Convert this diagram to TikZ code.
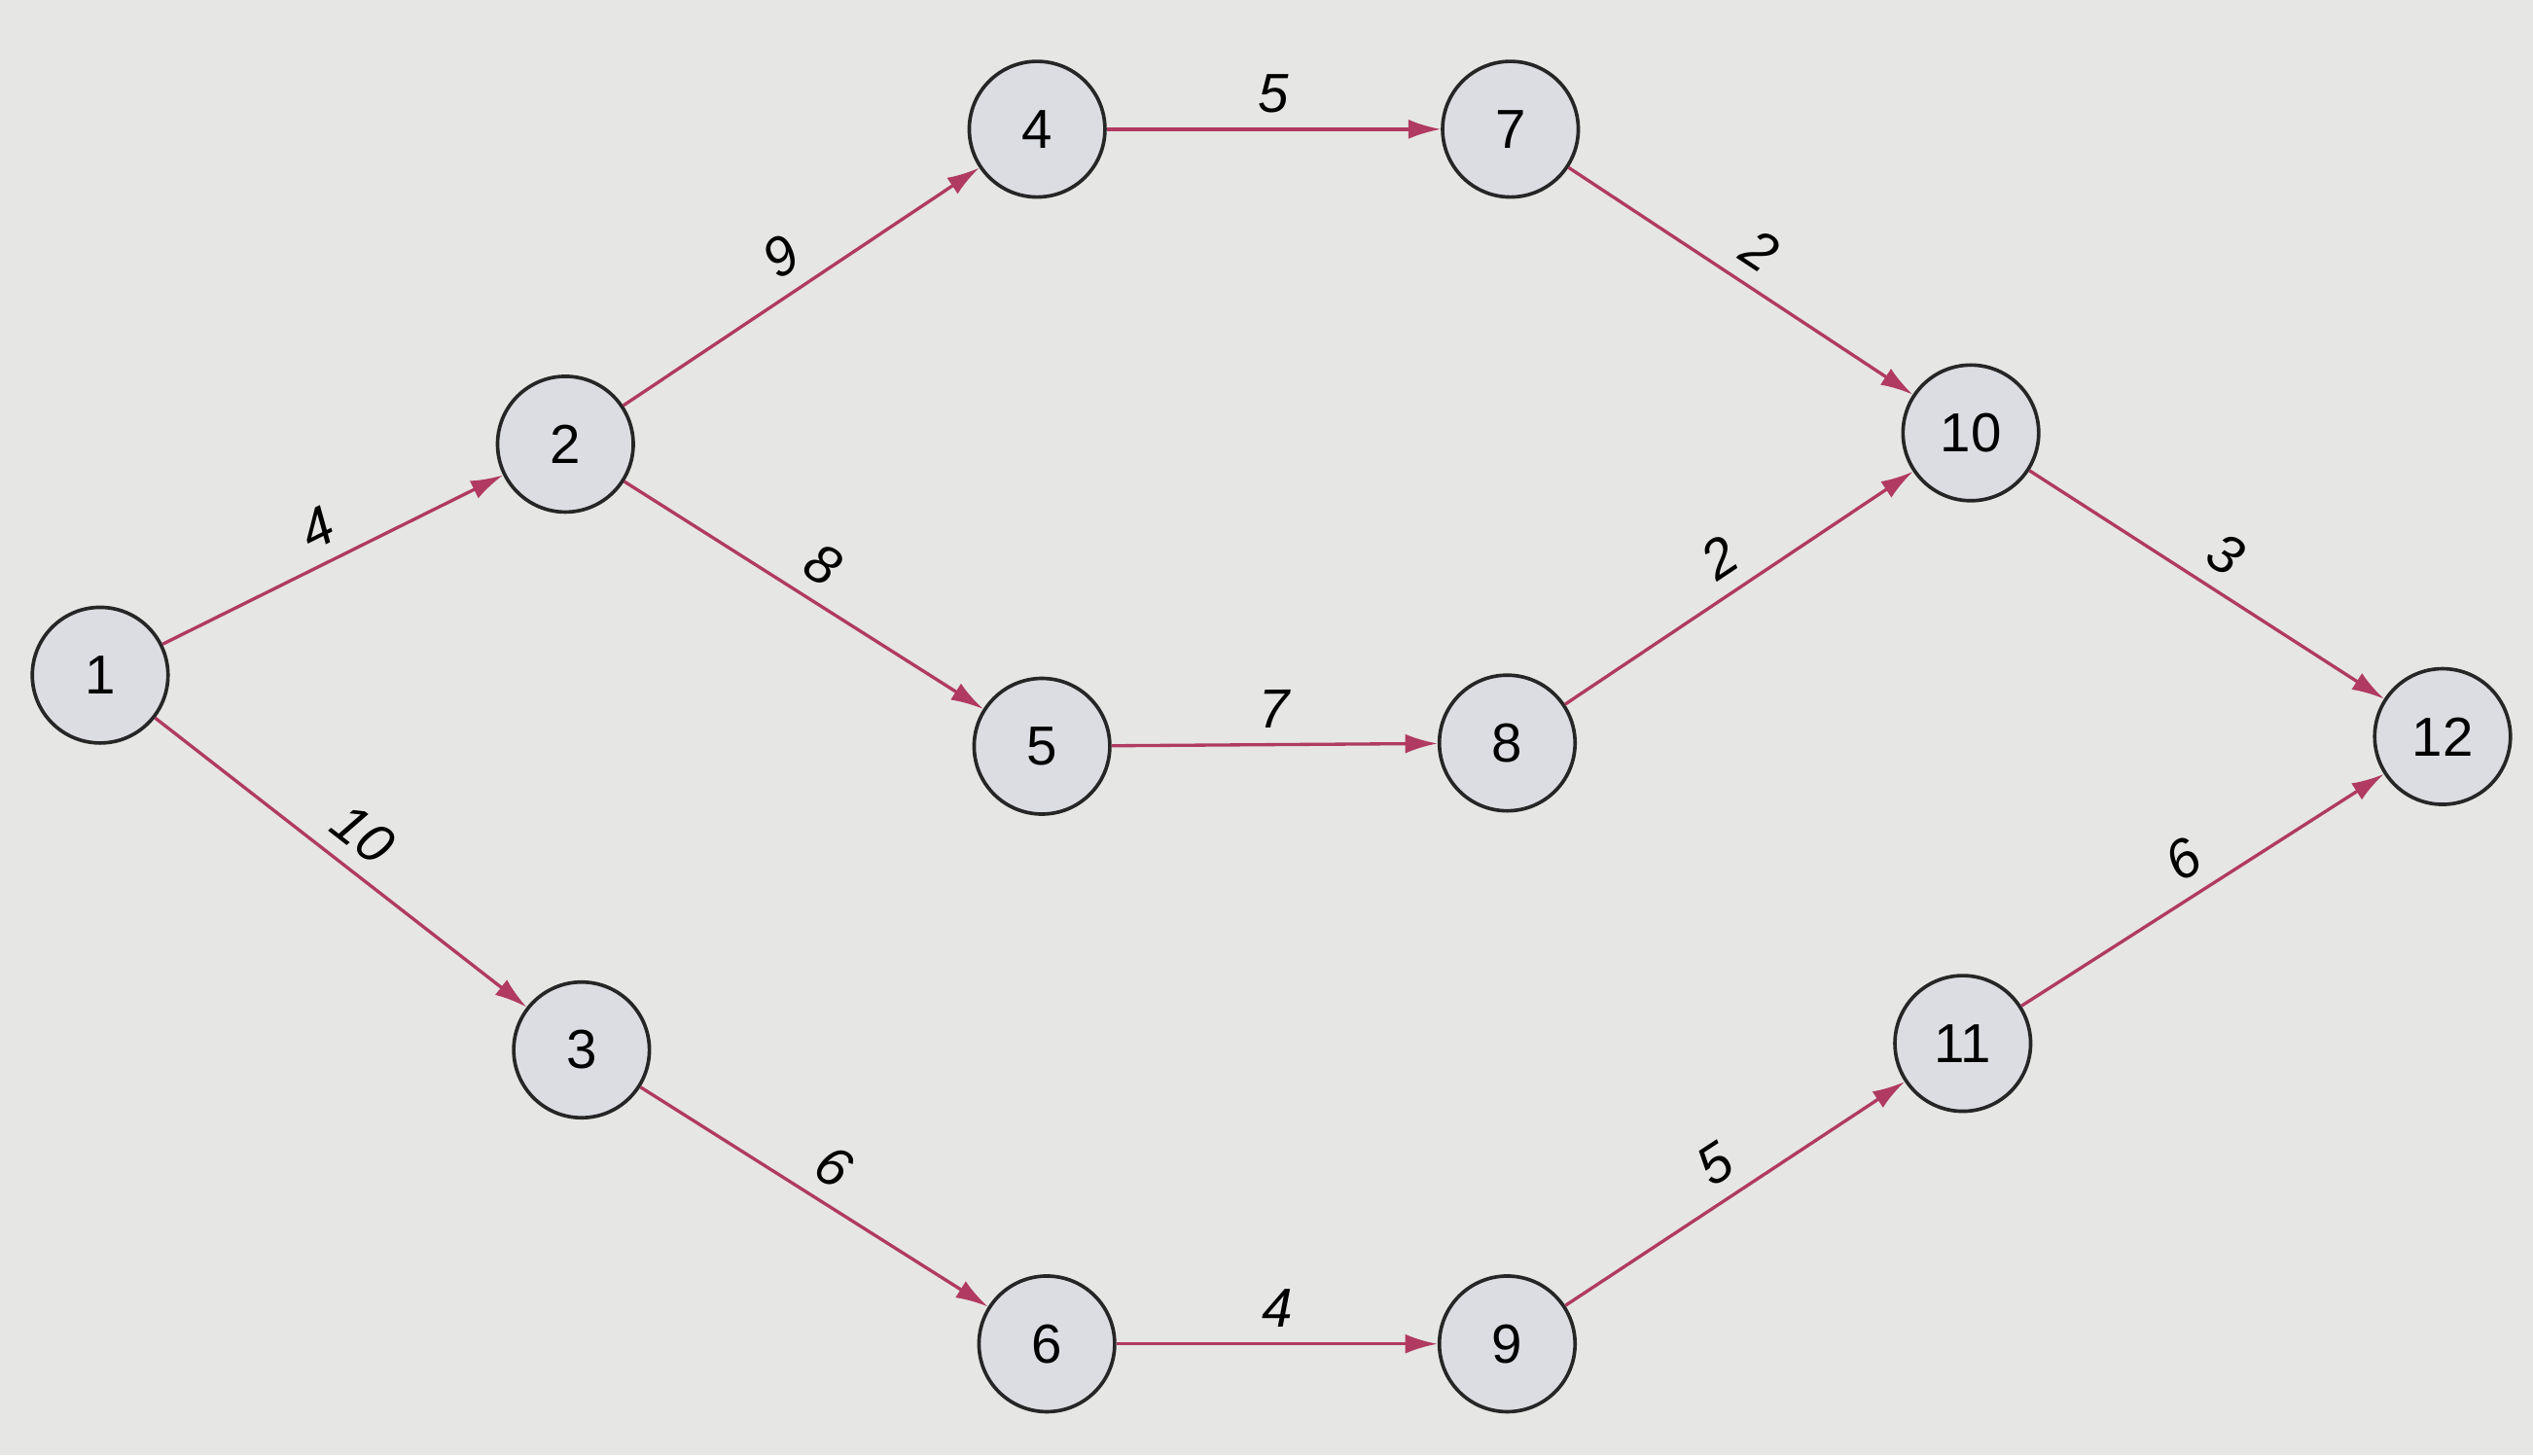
\documentclass[tikz,border=0pt]{standalone}
\usepackage{fontspec}
\setmainfont{Liberation Sans}
\usetikzlibrary{arrows.meta}
\definecolor{bg}{HTML}{E6E6E4}
\definecolor{nf}{HTML}{DCDDE2}
\definecolor{ar}{HTML}{B03A62}
\begin{document}
\begin{tikzpicture}[x=1pt,y=-1pt,
  ev/.style={circle,draw=black!85,line width=2.2pt,fill=nf,minimum size=84pt,inner sep=0pt,font=\fontsize{34}{40}\selectfont},
  act/.style={draw=ar,line width=2pt,-{Latex[length=20pt,width=12pt]}},
  lb/.style={midway,above=6pt,sloped,font=\fontsize{34}{40}\selectfont\itshape}]
\fill[bg] (0,0) rectangle (1568,901);
\useasboundingbox (0,0) rectangle (1568,901);
\node[ev] (n1) at (62,418) {1};
\node[ev] (n2) at (350,275) {2};
\node[ev] (n3) at (360,650) {3};
\node[ev] (n4) at (642,80) {4};
\node[ev] (n5) at (645,462) {5};
\node[ev] (n6) at (648,832) {6};
\node[ev] (n7) at (935,80) {7};
\node[ev] (n8) at (933,460) {8};
\node[ev] (n9) at (933,832) {9};
\node[ev] (n10) at (1220,268) {10};
\node[ev] (n11) at (1215,646) {11};
\node[ev] (n12) at (1512,456) {12};
\draw[act] (n1) -- node[lb]{4} (n2);
\draw[act] (n1) -- node[lb]{10} (n3);
\draw[act] (n2) -- node[lb]{9} (n4);
\draw[act] (n2) -- node[lb]{8} (n5);
\draw[act] (n3) -- node[lb]{6} (n6);
\draw[act] (n4) -- node[lb]{5} (n7);
\draw[act] (n5) -- node[lb]{7} (n8);
\draw[act] (n6) -- node[lb]{4} (n9);
\draw[act] (n7) -- node[lb]{2} (n10);
\draw[act] (n8) -- node[lb]{2} (n10);
\draw[act] (n9) -- node[lb]{5} (n11);
\draw[act] (n10) -- node[lb]{3} (n12);
\draw[act] (n11) -- node[lb]{6} (n12);
\end{tikzpicture}
\end{document}
